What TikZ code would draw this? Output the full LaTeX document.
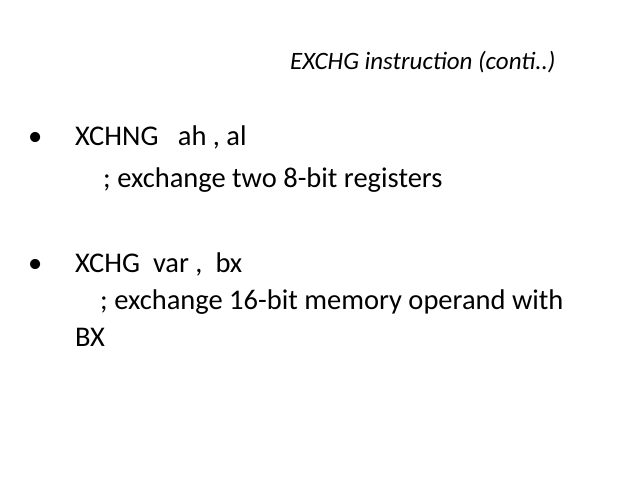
\documentclass[tikz,border=0pt]{standalone}
\usepackage{fontspec}
\setmainfont{Carlito}
\begin{document}
\begin{tikzpicture}[x=1pt,y=-1pt,
  txt/.style={anchor=base west,inner sep=0pt,font=\fontsize{28.5}{33}\selectfont},
  ttl/.style={anchor=base west,inner sep=0pt,font=\fontsize{25}{30}\selectfont\itshape}]
\useasboundingbox[fill=white] (0,0) rectangle (638,478);
\node[ttl] (title) at (290,70) {EXCHG instruction (conti..)};
\node[txt] (b1) at (28,146) {•};
\node[txt] (l1) at (75,146) {XCHNG\ \ \ ah , al};
\node[txt] (l2) at (103,188) {; exchange two 8-bit registers};
\node[txt] (b2) at (28,273) {•};
\node[txt] (l3) at (75,273) {XCHG\ \ var ,\ \ bx};
\node[txt] (l4) at (100,310) {; exchange 16-bit memory operand with};
\node[txt] (l5) at (75,347) {BX};
\end{tikzpicture}
\end{document}
